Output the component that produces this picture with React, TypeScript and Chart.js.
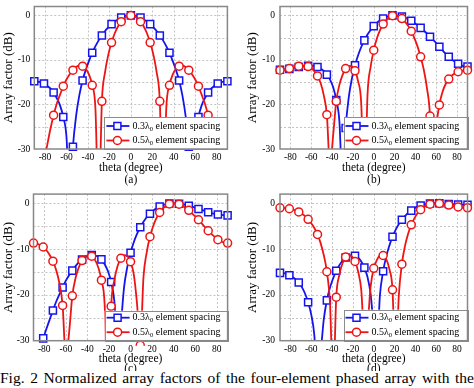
import React, { useEffect, useRef } from 'react';
import { Chart, registerables } from 'chart.js';

Chart.register(...registerables);

const FONT = "'Liberation Serif', 'Times New Roman', serif";
const BLUE = '#1414ee';
const RED = '#ee1414';

// theta grid (degree)
const theta = [-90,-87,-84,-81,-78,-75,-72,-69,-66,-63,-60,-57,-54,-51,-48,-45,-42,-39,-36,-33,-30,-27,-24,-21,-18,-15,-12,-9,-6,-3,0,3,6,9,12,15,18,21,24,27,30,33,36,39,42,45,48,51,54,57,60,63,66,69,72,75,78,81,84,87,90];
const xTickValues = [-80, -60, -40, -20, 0, 20, 40, 60, 80];
const yTickValues = [-30, -25, -20, -15, -10, -5, 0];
const X_MIN = -90, X_MAX = 90, Y_MIN = -30, Y_MAX = 2;
const spacingLabels = ['0.3', '0.5'];
const spacingSuffix = ' element spacing';
const panelLabels = ['(a)', '(b)', '(c)', '(d)'];
const xTitle = 'theta (degree)';
const yTitle = 'Array factor (dB)';
const caption = 'Fig. 2 Normalized array factors of the four-element phased array with the';

// (a)
const a03 = [-14.8,-14.85,-15.0,-15.3,-15.8,-16.4,-17.3,-18.6,-20.2,-22.8,-27.3,-42,-29.5,-22.5,-17.9,-14.6,-12.2,-10.2,-8.4,-6.9,-5.6,-4.5,-3.5,-2.7,-1.95,-1.35,-0.9,-0.5,-0.2,-0.05,0,-0.05,-0.2,-0.5,-0.9,-1.35,-1.95,-2.7,-3.5,-4.5,-5.6,-6.9,-8.4,-10.2,-12.2,-14.6,-17.9,-22.5,-29.5,-42,-27.3,-22.8,-20.2,-18.6,-17.3,-16.4,-15.8,-15.3,-15.0,-14.85,-14.8];
const a05 = [-60,-48,-40,-33,-29.2,-25.5,-22.4,-19.8,-17.8,-15.9,-14.4,-13.2,-12.3,-11.6,-11.3,-11.4,-12.0,-13.3,-15.7,-21.0,-45,-19.3,-12.7,-8.8,-6.1,-4.0,-2.5,-1.4,-0.6,-0.15,0,-0.15,-0.6,-1.4,-2.5,-4.0,-6.1,-8.8,-12.7,-19.3,-45,-21.0,-15.7,-13.3,-12.0,-11.4,-11.3,-11.6,-12.3,-13.2,-14.4,-15.9,-17.8,-19.8,-22.4,-25.5,-29.2,-33,-40,-48,-60];
// (b)
const b03 = [-12.2,-12.15,-12.1,-12.0,-11.85,-11.7,-11.6,-11.5,-11.35,-11.3,-11.3,-11.4,-11.6,-11.9,-12.45,-13.3,-14.4,-16.1,-19.0,-23.7,-38,-25.3,-18.4,-14.2,-11.2,-8.95,-7.1,-5.6,-4.3,-3.3,-2.4,-1.7,-1.1,-0.7,-0.35,-0.15,0,0,-0.1,-0.25,-0.5,-0.8,-1.2,-1.7,-2.2,-2.8,-3.4,-4.05,-4.8,-5.5,-6.2,-7.05,-7.85,-8.6,-9.3,-9.9,-10.4,-10.85,-11.2,-11.45,-11.5];
const b05 = [-12.3,-12.25,-12.1,-11.95,-11.8,-11.6,-11.4,-11.3,-11.35,-11.5,-11.85,-12.55,-13.6,-15.2,-17.9,-22.3,-34,-27,-19.3,-15.6,-13.4,-11.95,-11.35,-11.45,-12.45,-14.8,-19.9,-42,-17.9,-11.55,-7.8,-5.2,-3.3,-1.95,-1.0,-0.35,-0.05,0,-0.2,-0.7,-1.4,-2.35,-3.55,-5.1,-6.95,-9.3,-12.15,-16.2,-22.6,-42,-25.7,-20.1,-17.2,-15.4,-14.3,-13.5,-13.0,-12.65,-12.45,-12.35,-12.3];
// (c)
const c03 = [-33,-32.5,-31,-29.5,-27.4,-25.4,-23.4,-21.5,-19.9,-18.4,-16.9,-15.7,-14.7,-13.7,-12.9,-12.3,-11.8,-11.5,-11.3,-11.4,-11.65,-12.25,-13.3,-14.8,-17.2,-21.4,-33,-26.6,-18.3,-13.9,-10.8,-8.5,-6.7,-5.25,-4.05,-3.05,-2.3,-1.65,-1.1,-0.7,-0.4,-0.2,-0.05,0,0,-0.1,-0.2,-0.35,-0.55,-0.75,-1.0,-1.25,-1.45,-1.7,-1.95,-2.15,-2.3,-2.45,-2.55,-2.6,-2.65];
const c05 = [-8.7,-8.8,-9.1,-9.55,-10.25,-11.3,-12.65,-14.55,-17.4,-22.3,-34,-28.3,-20.2,-16.3,-14.0,-12.5,-11.65,-11.3,-11.55,-12.35,-13.95,-16.8,-22.2,-45,-22.5,-16.7,-13.7,-12.0,-11.35,-11.55,-12.75,-15.5,-21.9,-31,-16.1,-10.7,-7.3,-4.95,-3.25,-2.0,-1.15,-0.55,-0.15,0,-0.05,-0.2,-0.55,-1.0,-1.55,-2.2,-2.85,-3.6,-4.4,-5.2,-6.0,-6.7,-7.35,-7.95,-8.35,-8.6,-8.7];
// (d)
const d03 = [-15.2,-15.25,-15.4,-15.7,-16.1,-16.6,-17.3,-18.3,-19.7,-21.6,-24.3,-28.9,-40,-33,-25.4,-21.2,-18.4,-16.4,-14.75,-13.5,-12.55,-11.85,-11.45,-11.3,-11.45,-11.85,-12.7,-14.05,-16.1,-19.8,-27,-31.5,-19.9,-14.85,-11.6,-9.25,-7.3,-5.8,-4.6,-3.6,-2.8,-2.1,-1.6,-1.1,-0.75,-0.5,-0.3,-0.15,-0.05,0,0,0,-0.05,-0.1,-0.15,-0.2,-0.25,-0.3,-0.3,-0.35,-0.35];
const d05 = [-1.0,-1.0,-1.1,-1.2,-1.35,-1.6,-1.9,-2.3,-2.8,-3.5,-4.35,-5.4,-6.8,-8.7,-11.3,-14.95,-21.8,-40,-20.5,-15.6,-13.1,-11.75,-11.3,-11.6,-12.7,-14.9,-18.9,-29,-26.8,-18.2,-14.2,-12.4,-11.45,-11.4,-12.2,-14.35,-18.9,-37,-20.4,-13.3,-9.3,-6.65,-4.7,-3.3,-2.2,-1.4,-0.85,-0.45,-0.2,-0.05,0,-0.05,-0.15,-0.25,-0.4,-0.55,-0.7,-0.8,-0.9,-0.95,-1.0];

const seriesBlue = [a03, b03, c03, d03];
const seriesRed = [a05, b05, c05, d05];

type Lay = {
  left: number; top: number; w: number; h: number;
  axisW: number; axisH: number; padTop: number; padRight: number;
  titleLH: number; yTitlePad: number; yTickPad: number;
  legendW: number; legendH: number;
};

const layouts: Lay[] = [
  { left: 0, top: 0, w: 237, h: 186, axisW: 34.3, axisH: 37, padTop: 0.7, padRight: 9.6, titleLH: 12, yTitlePad: 1.2, yTickPad: 4, legendW: 123, legendH: 32 },
  { left: 237, top: 0, w: 237, h: 186, axisW: 43, axisH: 37, padTop: 0.7, padRight: 1, titleLH: 12, yTitlePad: 8, yTickPad: 5, legendW: 124, legendH: 32 },
  { left: 0, top: 186, w: 237, h: 188, axisW: 33.5, axisH: 33.3, padTop: 8.1, padRight: 9.4, titleLH: 10, yTitlePad: 1.2, yTickPad: 4, legendW: 123, legendH: 30 },
  { left: 237, top: 186, w: 237, h: 188, axisW: 43, axisH: 33.3, padTop: 8.1, padRight: 1, titleLH: 10, yTitlePad: 8, yTickPad: 5, legendW: 124, legendH: 31 },
];

const isMarker = (t: number) => t % 9 === 0;
const toXY = (vals: number[]) => theta.map((t, i) => ({ x: t, y: vals[i] }));
const toMarkers = (vals: number[]) => toXY(vals).filter((p) => isMarker(p.x));

function drawLegendLabel(ctx: CanvasRenderingContext2D, x: number, y: number, num: string) {
  const fs = 10;
  ctx.fillStyle = '#000';
  ctx.textAlign = 'left';
  ctx.textBaseline = 'middle';
  ctx.font = `${fs}px ${FONT}`;
  const head = num + 'λ';
  ctx.fillText(head, x, y);
  let w = ctx.measureText(head).width;
  ctx.font = `${fs * 0.65}px ${FONT}`;
  ctx.fillText('0', x + w, y + 3);
  w += ctx.measureText('0').width;
  ctx.font = `${fs}px ${FONT}`;
  ctx.fillText(spacingSuffix, x + w, y);
}

const deco = {
  id: 'deco',
  beforeDatasetsDraw(chart: any) {
    const { ctx, chartArea: ca } = chart;
    const xs = chart.scales.x, ys = chart.scales.y;
    ctx.save();
    ctx.strokeStyle = '#c4c4c4';
    ctx.lineWidth = 1;
    ctx.setLineDash([2, 2]);
    ctx.beginPath();
    for (const v of xTickValues) {
      const px = Math.round(xs.getPixelForValue(v)) + 0.5;
      ctx.moveTo(px, ca.top);
      ctx.lineTo(px, ca.bottom);
    }
    for (const v of yTickValues) {
      if (v === Y_MIN) continue;
      const py = Math.round(ys.getPixelForValue(v)) + 0.5;
      ctx.moveTo(ca.left, py);
      ctx.lineTo(ca.right, py);
    }
    ctx.stroke();
    ctx.restore();
  },
  afterDatasetsDraw(chart: any, _args: any, opts: any) {
    const { ctx, chartArea: ca } = chart;
    const W = opts.legendW, H = opts.legendH;
    const lx = ca.right - W, ly = ca.bottom - H;
    ctx.save();
    ctx.fillStyle = '#fff';
    ctx.fillRect(lx, ly, W, H);
    ctx.strokeStyle = '#8c8c8c';
    ctx.lineWidth = 1;
    ctx.strokeRect(Math.round(lx) + 0.5, Math.round(ly) + 0.5, W, H);
    const rows = [ca.bottom - 23, ca.bottom - 8.5];
    [BLUE, RED].forEach((col, i) => {
      const y = rows[i];
      ctx.strokeStyle = col;
      ctx.lineWidth = 1.8;
      ctx.beginPath();
      ctx.moveTo(lx + 2, y);
      ctx.lineTo(lx + 25, y);
      ctx.stroke();
      const mx = lx + 13;
      ctx.fillStyle = '#fff';
      ctx.lineWidth = 1.5;
      ctx.beginPath();
      if (i === 0) {
        ctx.rect(mx - 3.5, y - 3.5, 7, 7);
      } else {
        ctx.arc(mx, y, 4, 0, Math.PI * 2);
      }
      ctx.fill();
      ctx.stroke();
      drawLegendLabel(ctx, lx + 28, y, spacingLabels[i]);
    });
    ctx.strokeStyle = '#888';
    ctx.lineWidth = 1.5;
    ctx.strokeRect(ca.left, ca.top, ca.right - ca.left, ca.bottom - ca.top);
    ctx.restore();
  },
};

function makeConfig(idx: number): any {
  const lay = layouts[idx];
  const blue = seriesBlue[idx];
  const red = seriesRed[idx];
  const markerClip = { left: 8, right: 8, top: 8, bottom: 5 };
  return {
    type: 'line',
    data: {
      datasets: [
        { data: toMarkers(red), showLine: false, borderColor: RED, pointStyle: 'circle', pointRadius: 4, pointBorderWidth: 1.5, pointBorderColor: RED, pointBackgroundColor: '#fff', order: 0, clip: markerClip },
        { data: toXY(red), borderColor: RED, borderWidth: 1.8, pointRadius: 0, cubicInterpolationMode: 'monotone', fill: false, order: 1, clip: 0 },
        { data: toMarkers(blue), showLine: false, borderColor: BLUE, pointStyle: 'rect', pointRadius: 5, pointBorderWidth: 1.5, pointBorderColor: BLUE, pointBackgroundColor: '#fff', order: 2, clip: markerClip },
        { data: toXY(blue), borderColor: BLUE, borderWidth: 1.8, pointRadius: 0, cubicInterpolationMode: 'monotone', fill: false, order: 3, clip: 0 },
      ],
    },
    options: {
      responsive: false,
      animation: false,
      events: [],
      layout: { padding: { top: lay.padTop, right: lay.padRight, left: 0, bottom: 0 } },
      plugins: {
        legend: { display: false },
        tooltip: { enabled: false },
        deco: { legendW: lay.legendW, legendH: lay.legendH },
      },
      scales: {
        x: {
          type: 'linear',
          min: X_MIN,
          max: X_MAX,
          afterBuildTicks: (s: any) => { s.ticks = xTickValues.map((v) => ({ value: v })); },
          afterFit: (s: any) => { s.height = lay.axisH; s.paddingLeft = 0; s.paddingRight = 0; },
          grid: { display: false, drawTicks: false },
          border: { display: false },
          ticks: { padding: 3, autoSkip: false, maxRotation: 0, color: '#000', font: { family: FONT, size: 9.5 }, callback: (v: any) => String(v) },
          title: { display: true, text: [xTitle, panelLabels[idx]], color: '#000', font: { family: FONT, size: 11.5, lineHeight: `${lay.titleLH}px` }, padding: { top: 0, bottom: 0 } },
        },
        y: {
          type: 'linear',
          min: Y_MIN,
          max: Y_MAX,
          afterBuildTicks: (s: any) => { s.ticks = yTickValues.map((v) => ({ value: v })); },
          afterFit: (s: any) => { s.width = lay.axisW; s.paddingTop = 0; s.paddingBottom = 0; },
          grid: { display: false, drawTicks: false },
          border: { display: false },
          ticks: { padding: lay.yTickPad, autoSkip: false, color: '#000', font: { family: FONT, size: 9.5 }, callback: (v: any) => (v % 10 === 0 ? String(v) : '') },
          title: { display: true, text: yTitle, color: '#000', font: { family: FONT, size: 13, lineHeight: 1.2 }, padding: { top: lay.yTitlePad, bottom: 0 } },
        },
      },
    },
    plugins: [deco],
  };
}

function Panel({ idx }: { idx: number }) {
  const ref = useRef<HTMLCanvasElement>(null);
  const lay = layouts[idx];
  useEffect(() => {
    const chart = new Chart(ref.current as HTMLCanvasElement, makeConfig(idx));
    return () => chart.destroy();
  }, [idx]);
  return (
    <canvas
      ref={ref}
      width={lay.w}
      height={lay.h}
      style={{ position: 'absolute', left: lay.left, top: lay.top, width: lay.w, height: lay.h }}
    />
  );
}

export default function App() {
  return (
    <div style={{ position: 'fixed', left: 0, top: 0, width: 474, height: 388, background: '#fff', overflow: 'hidden' }}>
      {layouts.map((_, i) => (
        <Panel key={i} idx={i} />
      ))}
      <div
        style={{
          position: 'absolute', left: 0, top: 371, width: 474, height: 17, background: '#fff',
          fontFamily: FONT, fontSize: 15.5, lineHeight: '14px', color: '#000',
          textAlign: 'justify', textAlignLast: 'justify', whiteSpace: 'nowrap', overflow: 'hidden',
        }}
      >
        {caption}
      </div>
    </div>
  );
}
